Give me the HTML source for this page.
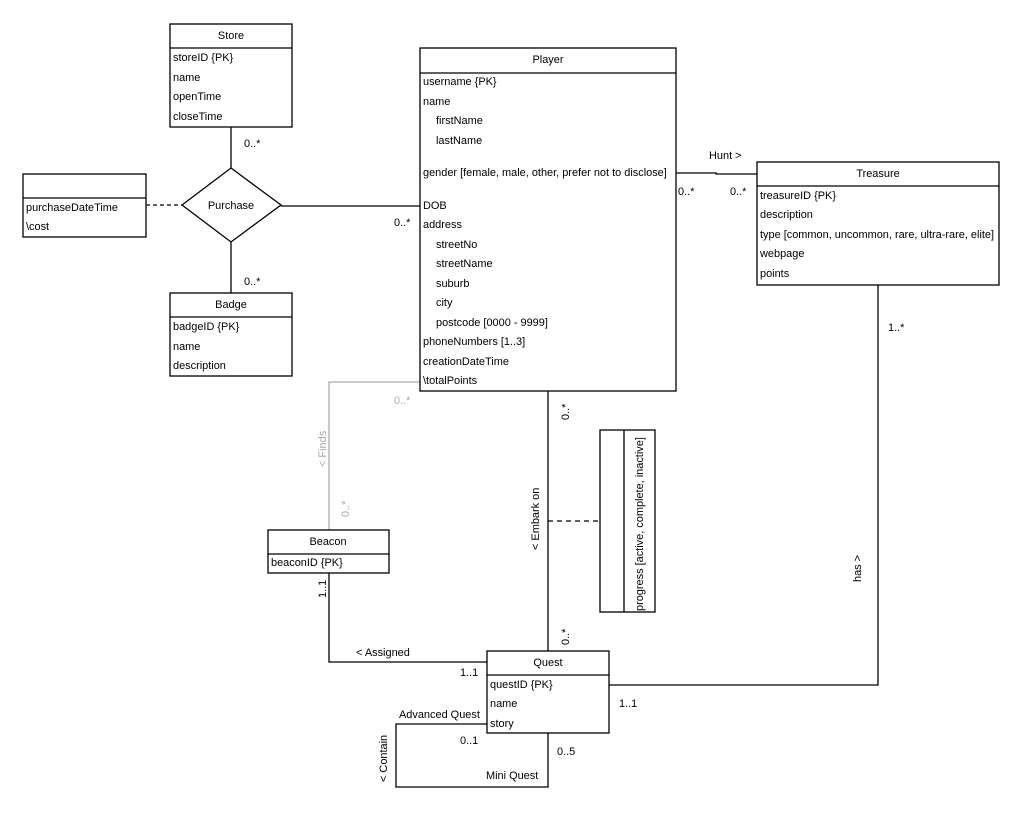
<!DOCTYPE html>
<html><head><style>
html,body{margin:0;padding:0;background:#fff;}
svg{display:block;font-family:"Liberation Sans",Arial,sans-serif;}
text{font-size:10.95px;fill:#000;}
</style></head><body>
<svg width="1024" height="819" viewBox="0 0 1024 819" xmlns="http://www.w3.org/2000/svg">
<g fill="none" stroke="#000" stroke-width="1.3">
<line x1="231" y1="127" x2="231" y2="168"/>
<line x1="231" y1="242" x2="231" y2="293"/>
<line x1="281" y1="206" x2="420" y2="206"/>
<line x1="146" y1="205" x2="182" y2="205" stroke-dasharray="4,3"/>
<polyline points="676,173 716,173 716,174 757,174"/>
<polyline points="420,382 329,382 329,530" stroke="#aaa"/>
<polyline points="329,573 329,662 487,662"/>
<line x1="548" y1="391" x2="548" y2="651"/>
<line x1="548" y1="521" x2="600" y2="521" stroke-dasharray="5,4"/>
<polyline points="878,285 878,685 609,685"/>
<polyline points="487,724 396,724 396,787 548,787 548,733"/>
<polygon points="231,168 281,205 231,242 182,205" fill="#fff"/>
<rect x="170" y="24" width="122" height="103" fill="#fff"/><line x1="170" y1="48" x2="292" y2="48"/>
<rect x="170" y="293" width="122" height="83" fill="#fff"/><line x1="170" y1="317" x2="292" y2="317"/>
<rect x="23" y="174" width="123" height="63" fill="#fff"/><line x1="23" y1="198" x2="146" y2="198"/>
<rect x="420" y="48" width="256" height="343" fill="#fff"/><line x1="420" y1="73" x2="676" y2="73"/>
<rect x="757" y="162" width="242" height="123" fill="#fff"/><line x1="757" y1="186" x2="999" y2="186"/>
<rect x="268" y="530" width="121" height="43" fill="#fff"/><line x1="268" y1="554" x2="389" y2="554"/>
<rect x="487" y="651" width="122" height="82" fill="#fff"/><line x1="487" y1="675" x2="609" y2="675"/>
<rect x="600" y="430" width="55" height="182" fill="#fff"/><line x1="624" y1="430" x2="624" y2="612"/>
</g>
<g text-anchor="middle">
<text x="231" y="39">Store</text>
<text x="231" y="209">Purchase</text>
<text x="231" y="308">Badge</text>
<text x="548" y="63">Player</text>
<text x="878" y="177">Treasure</text>
<text x="328" y="545">Beacon</text>
<text x="548" y="666">Quest</text>
</g>
<g>
<text x="173" y="61">storeID {PK}</text>
<text x="173" y="81">name</text>
<text x="173" y="100">openTime</text>
<text x="173" y="120">closeTime</text>
<text x="173" y="330">badgeID {PK}</text>
<text x="173" y="350">name</text>
<text x="173" y="369">description</text>
<text x="26" y="211">purchaseDateTime</text>
<text x="26" y="230">\cost</text>
<text x="423" y="85">username {PK}</text>
<text x="423" y="105">name</text>
<text x="436" y="124">firstName</text>
<text x="436" y="144">lastName</text>
<text x="423" y="176">gender [female, male, other, prefer not to disclose]</text>
<text x="423" y="209">DOB</text>
<text x="423" y="228">address</text>
<text x="436" y="248">streetNo</text>
<text x="436" y="267">streetName</text>
<text x="436" y="287">suburb</text>
<text x="436" y="306">city</text>
<text x="436" y="326">postcode [0000 - 9999]</text>
<text x="423" y="345">phoneNumbers [1..3]</text>
<text x="423" y="365">creationDateTime</text>
<text x="423" y="384">\totalPoints</text>
<text x="760" y="199">treasureID {PK}</text>
<text x="760" y="218">description</text>
<text x="760" y="238">type [common, uncommon, rare, ultra-rare, elite]</text>
<text x="760" y="257">webpage</text>
<text x="760" y="277">points</text>
<text x="271" y="566">beaconID {PK}</text>
<text x="490" y="688">questID {PK}</text>
<text x="490" y="707">name</text>
<text x="490" y="727">story</text>
<text x="244" y="147">0..*</text>
<text x="244" y="285">0..*</text>
<text x="394" y="226">0..*</text>
<text x="709" y="159">Hunt &gt;</text>
<text x="678" y="195">0..*</text>
<text x="730" y="195">0..*</text>
<text x="888" y="331">1..*</text>
<text x="394" y="404" style="fill:#aaa">0..*</text>
<text x="460" y="676">1..1</text>
<text x="356" y="656">&lt; Assigned</text>
<text x="619" y="707">1..1</text>
<text x="399" y="718">Advanced Quest</text>
<text x="460" y="744">0..1</text>
<text x="557" y="755">0..5</text>
<text x="486" y="779">Mini Quest</text>
</g>
<g>
<text transform="translate(326,467) rotate(-90)" style="fill:#aaa">&lt; Finds</text>
<text transform="translate(349,517) rotate(-90)" style="fill:#aaa">0..*</text>
<text transform="translate(326,598) rotate(-90)">1..1</text>
<text transform="translate(569,420) rotate(-90)">0..*</text>
<text transform="translate(569,645) rotate(-90)">0..*</text>
<text transform="translate(539,550) rotate(-90)">&lt; Embark on</text>
<text transform="translate(643,611) rotate(-90)">progress [active, complete, inactive]</text>
<text transform="translate(861,582) rotate(-90)">has &gt;</text>
<text transform="translate(387,782) rotate(-90)">&lt; Contain</text>
</g>
</svg>
</body></html>
